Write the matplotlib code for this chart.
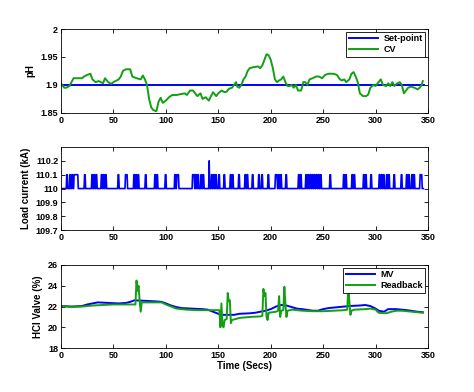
import matplotlib
matplotlib.use("Agg")
import matplotlib.pyplot as plt
import numpy as np

# ---------------- data ----------------
setpoint_value = 1.9
time_end = 346

cv_t = [0, 3, 5, 8, 10, 12, 15, 20, 22, 25, 28, 30, 33, 36, 40, 42, 45, 48, 50, 55, 57, 59, 62, 66, 68,
        72, 76, 78, 80, 82, 84, 86, 88, 91, 93, 95, 97, 100, 103, 106, 110, 115, 118, 120, 123, 126,
        128, 130, 133, 135, 138, 141, 143, 145, 148, 150, 153, 156, 158, 160, 163, 165, 167, 168, 170,
        172, 174, 176, 178, 180, 184, 188, 190, 192, 194, 196, 198, 200, 202, 204, 206, 208, 210, 212,
        214, 216, 218, 220, 222, 224, 226, 229, 231, 233, 235, 237, 240, 243, 246, 249, 252, 255, 260,
        263, 266, 268, 270, 272, 275, 277, 279, 281, 283, 285, 288, 291, 293, 295, 298, 300, 302, 305,
        307, 310, 312, 314, 316, 318, 320, 323, 325, 327, 329, 331, 334, 337, 340, 342, 344, 345]
cv_v = [1.903, 1.895, 1.895, 1.898, 1.905, 1.912, 1.912, 1.912, 1.915, 1.918, 1.920, 1.910, 1.905, 1.907,
        1.903, 1.912, 1.905, 1.902, 1.905, 1.910, 1.915, 1.925, 1.928, 1.928, 1.915,
        1.912, 1.910, 1.917, 1.910, 1.900, 1.875, 1.860, 1.855, 1.853, 1.870, 1.877, 1.868, 1.872,
        1.878, 1.882, 1.882, 1.884, 1.885, 1.882, 1.890, 1.890,
        1.885, 1.880, 1.885, 1.875, 1.878, 1.872, 1.880, 1.887, 1.880, 1.885, 1.890, 1.887, 1.888,
        1.893, 1.895, 1.900, 1.905, 1.897, 1.895,
        1.900, 1.910, 1.915, 1.925, 1.930, 1.932, 1.933, 1.930, 1.935, 1.945, 1.955, 1.953, 1.945,
        1.930, 1.910, 1.905, 1.908, 1.910, 1.915,
        1.905, 1.898, 1.898, 1.900, 1.895, 1.900, 1.890, 1.890, 1.905, 1.905, 1.900, 1.910, 1.912,
        1.915, 1.915, 1.912, 1.918, 1.920, 1.920,
        1.918, 1.910, 1.908, 1.910, 1.905, 1.910, 1.920, 1.923, 1.915, 1.905, 1.885, 1.880, 1.880,
        1.883, 1.895, 1.900, 1.898, 1.903, 1.910,
        1.900, 1.898, 1.903, 1.898, 1.905, 1.898, 1.902, 1.905, 1.900, 1.885, 1.890, 1.895, 1.897,
        1.895, 1.892, 1.895, 1.900, 1.907]

load_base = 110.0
load_high = 110.1
load_peak = 110.2
load_pulses = [(5, 6), (8, 9), (10, 11), (12, 16), (22, 23), (29, 30), (31, 32), (33, 34),
               (38, 39), (40, 41), (42, 43), (54, 55), (61, 63), (69, 70), (71, 72), (73, 74),
               (80, 81), (89, 90), (91, 92), (99, 100), (108, 109), (110, 112),
               (125, 127), (128, 129), (130, 131), (133, 134), (135, 136), (143, 144),
               (145, 146), (147, 148), (150, 151), (155, 156), (161, 162), (163, 164), (169, 170),
               (175, 176), (177, 178), (182, 183), (188, 189), (191, 192), (197, 198),
               (204, 206), (207, 208), (209, 210), (214, 215), (226, 227), (228, 229),
               (233, 234), (235, 236), (237, 238), (239, 240), (241, 242), (243, 244),
               (245, 246), (247, 248), (256, 257), (269, 270), (271, 272), (277, 278),
               (279, 280), (288, 289), (290, 291), (295, 296), (303, 304), (305, 306),
               (307, 308), (310, 311), (312, 313), (317, 318), (324, 325), (329, 330),
               (331, 332), (334, 335), (336, 337), (342, 344)]
load_spike_t = 141.3

mv_t = [0, 10, 20, 25, 30, 35, 45, 55, 62, 66, 70, 80, 90, 96, 100, 105, 110, 115, 125, 135, 140, 145,
        150, 155, 165, 170, 180, 185, 190, 195, 200, 205, 210, 215, 220, 225, 230, 240, 245, 250, 255,
        260, 265, 270, 275, 285, 290, 295, 300, 303, 308, 312, 320, 325, 330, 340, 345]
mv_v = [22.05, 22.0, 22.05, 22.2, 22.3, 22.4, 22.35, 22.3, 22.35, 22.45, 22.6, 22.55, 22.5, 22.45,
        22.3, 22.1, 21.95, 21.85, 21.8, 21.75, 21.7, 21.5, 21.3, 21.2, 21.2, 21.3, 21.35, 21.4, 21.5,
        21.6, 21.75, 22.0, 22.15, 22.1, 21.95, 21.8, 21.75, 21.6, 21.6, 21.75, 21.85, 21.9, 21.95,
        22.0, 22.05, 22.1, 22.15, 22.05, 21.8, 21.6, 21.5, 21.75, 21.75, 21.7, 21.65, 21.5, 21.45]

rb_t = [0, 10, 20, 30, 40, 50, 60, 71, 72, 73, 74, 75, 76, 77, 80, 90, 96, 100, 105, 110, 120, 130,
        140, 151, 152, 153, 154, 155, 156, 158, 159, 160, 161, 162, 163, 170, 180, 190, 192, 193, 194,
        195, 196, 197, 198, 205, 207, 208, 209, 210, 212, 213, 214, 215, 216, 220, 230, 240, 250, 260,
        270, 273, 274, 275, 276, 277, 280, 290, 295, 300, 303, 310, 315, 320, 325, 335, 345]
rb_v = [22.05, 21.95, 22.0, 22.1, 22.15, 22.2, 22.2, 22.2, 24.5, 23.5, 24.0, 22.5, 21.5, 22.4, 22.4,
        22.4, 22.4, 22.2, 22.0, 21.8, 21.7, 21.65, 21.65, 21.65, 20.0, 22.3, 20.2, 20.0, 20.7, 20.8,
        23.3, 22.5, 22.6, 20.4, 20.7, 20.9, 21.0, 21.05, 21.1, 23.7, 23.0, 23.3, 21.0, 20.7, 21.4,
        21.5, 21.6, 23.0, 21.0, 21.6, 21.65, 23.9, 22.3, 21.0, 21.6, 21.7, 21.6, 21.55, 21.55, 21.6,
        21.65, 21.7, 24.2, 22.5, 21.2, 21.6, 21.7, 21.75, 21.8, 21.7, 21.4, 21.35, 21.5, 21.6, 21.6,
        21.5, 21.4]

xticks = [0, 50, 100, 150, 200, 250, 300, 350]
ph_ticks = [1.85, 1.9, 1.95, 2]
ph_ticklabels = ["1.85", "1.9", "1.95", "2"]
lc_ticks = [109.7, 109.8, 109.9, 110, 110.1, 110.2]
lc_ticklabels = ["109.7", "109.8", "109.9", "110", "110.1", "110.2"]
hcl_ticks = [18, 20, 22, 24, 26]

# ---------------- build load current step series ----------------
lc_t = [0.0]
lc_v = [load_base]
events = [(a, b, load_high) for a, b in load_pulses] + [(load_spike_t - 0.5, load_spike_t, load_peak)]
events.sort()
for a, b, h in events:
    lc_t += [a, a + 0.5, b, b + 0.5]
    lc_v += [load_base, h, h, load_base]
lc_t.append(time_end - 0.5)
lc_v.append(load_base)

# ---------------- figure ----------------
plt.rcParams['font.family'] = ['Liberation Sans', 'DejaVu Sans']
plt.rcParams['font.weight'] = 'bold'
plt.rcParams['font.size'] = 6.5

blue = '#0000ff'
green = '#12a012'

fig = plt.figure(figsize=(4.74, 3.92), dpi=100)
left, width = 0.1287, 0.7743
ax1 = fig.add_axes([left, 0.712, width, 0.214])
ax2 = fig.add_axes([left, 0.413, width, 0.212])
ax3 = fig.add_axes([left, 0.112, width, 0.212])

lw = 1.4
ax1.plot([0, time_end], [setpoint_value, setpoint_value], color=blue, lw=lw, label='Set-point')
ax1.plot(cv_t, cv_v, color=green, lw=lw, label='CV')
ax1.set_ylim(1.85, 2.0)
ax1.set_yticks(ph_ticks)
ax1.set_yticklabels(ph_ticklabels)
ax1.set_ylabel('pH', fontweight='bold', fontsize=7, labelpad=4)

ax2.plot(lc_t, lc_v, color=blue, lw=1.2)
ax2.set_ylim(109.7, 110.3)
ax2.set_yticks(lc_ticks)
ax2.set_yticklabels(lc_ticklabels)
ax2.set_ylabel('Load current (kA)', fontweight='bold', fontsize=7, labelpad=3)

ax3.plot(mv_t, mv_v, color=blue, lw=lw, label='MV')
ax3.plot(rb_t, rb_v, color=green, lw=lw, label='Readback')
ax3.set_ylim(18, 26)
ax3.set_yticks(hcl_ticks)
ax3.set_ylabel('HCl Valve (%)', fontweight='bold', fontsize=7, labelpad=4)
ax3.set_xlabel('Time (Secs)', fontweight='bold', fontsize=7, labelpad=1)

for ax in (ax1, ax2, ax3):
    ax.set_xlim(0, 350)
    ax.set_xticks(xticks)
    ax.tick_params(direction='in', top=True, right=True, length=3, width=0.6, pad=2, labelsize=6.5)
    for s in ax.spines.values():
        s.set_linewidth(0.6)
    for lab in ax.get_xticklabels() + ax.get_yticklabels():
        lab.set_fontweight('bold')

for ax in (ax1, ax3):
    leg = ax.legend(loc='upper right', frameon=True, fancybox=False, edgecolor='black',
                    framealpha=1, fontsize=6.5, handlelength=3.2, borderpad=0.3,
                    labelspacing=0.2, handletextpad=0.6, borderaxespad=0.3)
    leg.get_frame().set_linewidth(0.6)
    for t in leg.get_texts():
        t.set_fontweight('bold')

fig.savefig('out.png', dpi=100)
